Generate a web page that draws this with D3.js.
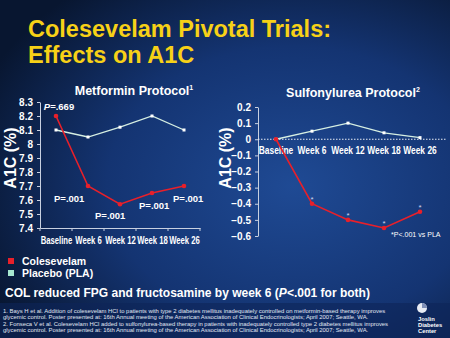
<!DOCTYPE html>
<html>
<head>
<meta charset="utf-8">
<script src="https://cdn.jsdelivr.net/npm/d3@7"></script>
<style>
  body { margin: 0; background: #0c1f4a; }
  svg { display: block; font-family: "Liberation Sans", Arial, sans-serif; }
  .axis path, .axis line { stroke: #c8d0e0; }
  .axis text { fill: #fff; font-weight: bold; font-size: 10px; }
</style>
</head>
<body>
<script>
// categories
const weeks = ["Baseline", "Week 6", "Week 12", "Week 18", "Week 26"];

// metformin protocol, A1C (%)
const metColesevelam = [8.2, 7.7, 7.57, 7.65, 7.7];
const metPlacebo = [8.1, 8.05, 8.12, 8.2, 8.1];
const metPvalues = ["=.669", "P=.001", "P=.001", "P=.001", "P=.001"];
const metTicks = [8.3, 8.2, 8.1, 8, 7.9, 7.8, 7.7, 7.6, 7.5, 7.4];

// sulfonylurea protocol, change in A1C (%)
const sulColesevelam = [0, -0.4, -0.5, -0.55, -0.45];
const sulPlacebo = [0, 0.05, 0.1, 0.04, 0.01];
const sulTicks = [0.2, 0.1, 0, -0.1, -0.2, -0.3, -0.4, -0.5, -0.6];

const width = 450, height = 338;
const red = "#e8202a", mint = "#d6efe2", yellow = "#f7d117";

const svg = d3.select("body").append("svg")
	.attr("width", width)
	.attr("height", height);

// squeeze a text horizontally (no narrow font installed)
function condense(sel, k) {
	sel.each(function () {
		const w = this.getComputedTextLength();
		d3.select(this).attr("textLength", w * k).attr("lengthAdjust", "spacingAndGlyphs");
	});
}

// background
const defs = svg.append("defs");
const grad = defs.append("radialGradient")
	.attr("id", "bg")
	.attr("cx", "65%").attr("cy", "55%").attr("r", "75%");
grad.append("stop").attr("offset", "0%").attr("stop-color", "#1f4a94");
grad.append("stop").attr("offset", "55%").attr("stop-color", "#143472");
grad.append("stop").attr("offset", "100%").attr("stop-color", "#081630");
svg.append("rect").attr("width", width).attr("height", height).attr("fill", "url(#bg)");

// title
svg.append("text")
	.attr("x", 28).attr("y", 37)
	.attr("fill", yellow).attr("font-weight", "bold").attr("font-size", 23.5)
	.text("Colesevelam Pivotal Trials:");
svg.append("text")
	.attr("x", 28).attr("y", 63)
	.attr("fill", yellow).attr("font-weight", "bold").attr("font-size", 23.5)
	.text("Effects on A1C");

function drawPanel(opt) {
	const x = d3.scalePoint().domain(weeks).range(opt.xRange).padding(0.5);
	const y = d3.scaleLinear().domain(opt.yDomain).range(opt.yRange);
	const g = svg.append("g");

	// title with superscript
	const t = g.append("text")
		.attr("x", opt.titleX).attr("y", opt.titleY)
		.attr("fill", "#fff").attr("font-weight", "bold").attr("font-size", 12.5)
		.attr("text-anchor", "middle");
	t.append("tspan").text(opt.title);
	t.append("tspan").attr("font-size", 7).attr("dy", -5).text(opt.sup);

	// y label
	g.append("text")
		.attr("transform", `translate(${opt.labelX},${opt.labelY}) rotate(-90)`)
		.attr("text-anchor", "middle")
		.attr("fill", "#fff").attr("font-weight", "bold").attr("font-size", 16)
		.text("A1C (%)");

	const yAxis = g.append("g")
		.attr("class", "axis")
		.attr("transform", `translate(${opt.xRange[0]},0)`)
		.call(d3.axisLeft(y).tickValues(opt.ticks).tickSize(3).tickSizeOuter(0)
			.tickFormat(d => d3.format("")(+d.toFixed(1))));
	yAxis.selectAll("text").attr("font-size", 10.5).attr("dx", -1);

	return { g, x, y };
}

// ---- metformin panel ----
const met = drawPanel({
	xRange: [40, 200], yDomain: [7.4, 8.3], yRange: [228, 102],
	ticks: metTicks, title: "Metformin Protocol", sup: "1",
	titleX: 134, titleY: 95, labelX: 16, labelY: 158
});

const metXAxis = met.g.append("g")
	.attr("class", "axis")
	.attr("transform", `translate(0,${met.y(7.4)})`)
	.call(d3.axisBottom(met.x).tickSize(0));
metXAxis.selectAll("text").attr("dy", 12.5).attr("font-size", 9.5).call(condense, 0.77);
// small separators between categories
met.g.selectAll(".sep").data(d3.range(6)).join("line")
	.attr("x1", i => 40 + i * 32).attr("x2", i => 40 + i * 32)
	.attr("y1", met.y(7.4)).attr("y2", met.y(7.4) + 3)
	.attr("stroke", "#c8d0e0");

const metLine = d3.line().x((d, i) => met.x(weeks[i])).y(d => met.y(d));
met.g.append("path").datum(metPlacebo)
	.attr("d", metLine).attr("fill", "none").attr("stroke", mint).attr("stroke-width", 1.3);
met.g.selectAll(".pm").data(metPlacebo).join("rect")
	.attr("x", (d, i) => met.x(weeks[i]) - 1.5).attr("y", d => met.y(d) - 1.5)
	.attr("width", 3).attr("height", 3).attr("fill", "#fff");
met.g.append("path").datum(metColesevelam)
	.attr("d", metLine).attr("fill", "none").attr("stroke", red).attr("stroke-width", 1.6);
met.g.selectAll(".cm").data(metColesevelam).join("circle")
	.attr("cx", (d, i) => met.x(weeks[i])).attr("cy", d => met.y(d))
	.attr("r", 2.3).attr("fill", red);

// p-value labels (offsets from the point they describe)
const pOffsets = [[3, 8], [-34, 16], [-25, 15], [-13, 16], [-11, 16]];
met.g.selectAll(".pv").data(metPvalues).join("text")
	.attr("x", (d, i) => met.x(weeks[i]) + pOffsets[i][0])
	.attr("y", (d, i) => met.y(i === 0 ? 8.3 : metColesevelam[i]) + pOffsets[i][1])
	.attr("text-anchor", (d, i) => i === 0 ? "middle" : "start")
	.attr("fill", "#fff").attr("font-weight", "bold").attr("font-size", 9.5)
	.each(function (d, i) {
		const s = d3.select(this);
		if (i === 0) {
			s.append("tspan").attr("font-style", "italic").text("P");
			s.append("tspan").text(d);
		} else {
			s.text(d);
		}
	});

// ---- sulfonylurea panel ----
const sul = drawPanel({
	xRange: [258, 438], yDomain: [-0.6, 0.2], yRange: [236, 107],
	ticks: sulTicks, title: "Sulfonylurea Protocol", sup: "2",
	titleX: 353, titleY: 97, labelX: 231, labelY: 158
});

sul.g.append("line")
	.attr("x1", 258).attr("x2", 447)
	.attr("y1", sul.y(0)).attr("y2", sul.y(0))
	.attr("stroke", "#e8ecf4").attr("stroke-width", 1.2)
	.attr("stroke-dasharray", "1.5,1.5");
sul.g.selectAll(".cat").data(weeks).join("text")
	.attr("x", d => sul.x(d)).attr("y", sul.y(0) + 15)
	.attr("text-anchor", "middle")
	.attr("fill", "#fff").attr("font-weight", "bold").attr("font-size", 10.5)
	.text(d => d)
	.call(condense, 0.8);

const sulLine = d3.line().x((d, i) => sul.x(weeks[i])).y(d => sul.y(d));
sul.g.append("path").datum(sulPlacebo)
	.attr("d", sulLine).attr("fill", "none").attr("stroke", mint).attr("stroke-width", 1.3);
sul.g.selectAll(".ps").data(sulPlacebo).join("rect")
	.attr("x", (d, i) => sul.x(weeks[i]) - 1.5).attr("y", d => sul.y(d) - 1.5)
	.attr("width", 3).attr("height", 3).attr("fill", "#fff");
sul.g.append("path").datum(sulColesevelam)
	.attr("d", sulLine).attr("fill", "none").attr("stroke", red).attr("stroke-width", 1.6);
sul.g.selectAll(".cs").data(sulColesevelam).join("circle")
	.attr("cx", (d, i) => sul.x(weeks[i])).attr("cy", d => sul.y(d))
	.attr("r", 2.3).attr("fill", red);
sul.g.selectAll(".star").data(sulColesevelam.slice(1)).join("text")
	.attr("x", (d, i) => sul.x(weeks[i + 1]))
	.attr("y", d => sul.y(d) - 2)
	.attr("text-anchor", "middle")
	.attr("fill", "#c8d4ec").attr("font-size", 8)
	.text("*");
sul.g.append("text")
	.attr("x", 391).attr("y", 237)
	.attr("fill", "#fff").attr("font-size", 8)
	.text("*P<.001 vs PLA")
	.call(condense, 0.88);

// ---- legend ----
const legend = svg.append("g");
[["Colesevelam", red], ["Placebo (PLA)", "#a8e8d0"]].forEach((d, i) => {
	legend.append("rect")
		.attr("x", 8).attr("y", 258 + i * 12).attr("width", 6).attr("height", 6)
		.attr("fill", d[1]);
	legend.append("text")
		.attr("x", 22).attr("y", 265 + i * 12)
		.attr("fill", "#fff").attr("font-weight", "bold").attr("font-size", 10.5)
		.text(d[0]);
});

// ---- bottom note ----
const note = svg.append("text")
	.attr("x", 5).attr("y", 297)
	.attr("fill", "#fff").attr("font-weight", "bold").attr("font-size", 12);
note.append("tspan").text("COL reduced FPG and fructosamine by week 6 (");
note.append("tspan").attr("font-style", "italic").text("P");
note.append("tspan").text("<.001 for both)");

svg.append("rect")
	.attr("x", 0).attr("y", 303).attr("width", width).attr("height", 35)
	.attr("fill", "#0d2458").attr("opacity", 0.6);

const refs = [
	"1. Bays H et al. Addition of  colesevelam HCl to patients with type 2 diabetes mellitus inadequately controlled on metformin-based therapy improves",
	"glycemic control. Poster presented at: 16th Annual meeting of the American Association of Clinical Endocrinologists; April 2007; Seattle, WA.",
	"2. Fonseca V et al.  Colesevelam HCl added to sulfonylurea-based therapy in patients with inadequately controlled type 2 diabetes mellitus improves",
	"glycemic control. Poster presented at: 16th Annual meeting of the American Association of Clinical Endocrinologists; April 2007; Seattle, WA."
];
const refY = [313, 319, 326, 332];
svg.selectAll(".ref").data(refs).join("text")
	.attr("x", 3).attr("y", (d, i) => refY[i])
	.attr("fill", "#e0e6f2").attr("font-size", 5.9)
	.text(d => d);

// Joslin logo
svg.append("circle").attr("cx", 422).attr("cy", 308).attr("r", 5).attr("fill", "#e8ecf4");
svg.append("path")
	.attr("d", "M422,303 A5,5 0 0,1 427,308 L422,308 Z")
	.attr("fill", "#7f90b8");
["Joslin", "Diabetes", "Center"].forEach((d, i) => {
	svg.append("text")
		.attr("x", 418).attr("y", 321 + i * 6)
		.attr("fill", "#fff").attr("font-weight", "bold").attr("font-size", 5.8)
		.text(d);
});
</script>
</body>
</html>
